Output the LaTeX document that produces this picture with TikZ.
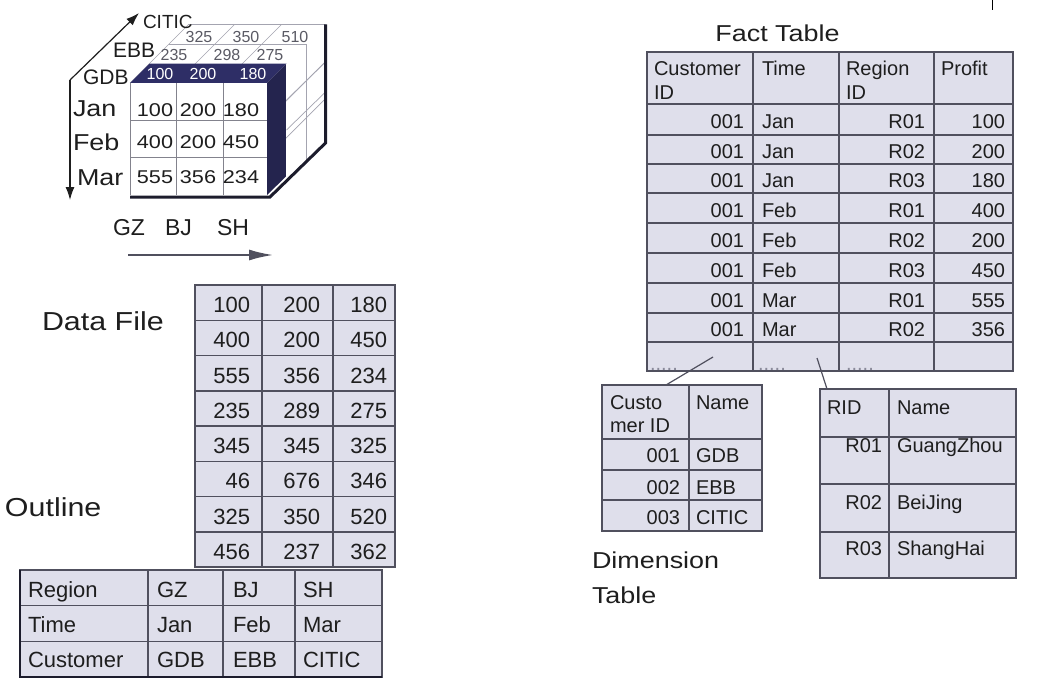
\documentclass[tikz,border=0pt]{standalone}
\usepackage{fontspec}
\setmainfont{Liberation Sans}
\newfontfamily\widefont{Liberation Sans}[FakeStretch=1.17]
\usetikzlibrary{arrows.meta}
\newcommand{\pxfont}[1]{\fontsize{#1}{#1}\selectfont}
\newcommand{\pxwfont}[1]{\widefont\fontsize{#1}{#1}\selectfont}
\definecolor{cellfill}{HTML}{DFDFEB}
\definecolor{gridc}{HTML}{50505E}
\definecolor{txt}{HTML}{1E1E1E}
\definecolor{navy}{HTML}{2E2E66}
\definecolor{navyl}{HTML}{7070AE}
\definecolor{navyd}{HTML}{24244E}
\definecolor{hatch}{HTML}{A4A4B0}
\definecolor{numgrey}{HTML}{5A5A64}
\definecolor{edgec}{HTML}{1C1C2C}
\definecolor{dotc}{HTML}{8A8A9A}
\tikzset{
  fsz/.code={\pgfmathsetmacro\mytxh{0.716*#1}\edef\mytmp{\noexpand\tikzset{font=\noexpand\pxfont{#1},text height=\mytxh pt,text depth=0pt}}\mytmp},
  wfsz/.code={\pgfmathsetmacro\mytxh{0.716*#1}\edef\mytmp{\noexpand\tikzset{font=\noexpand\pxwfont{#1},text height=\mytxh pt,text depth=0pt}}\mytmp},
  tbl/.style={draw=gridc, fill=cellfill, line width=1.5pt, anchor=north west},
  gline/.style={draw=gridc, line width=1.5pt},
  hline/.style={draw=hatch, line width=0.7pt},
  fline/.style={draw=hatch!80!black, line width=0.8pt},
  axisarrow/.style={draw=txt, line width=1.2pt, -{Latex[length=13pt,width=9pt]}},
  link/.style={draw=gridc, line width=1.2pt},
}
\begin{document}
\begin{tikzpicture}[x=1pt,y=-1pt, every node/.style={inner sep=0pt, outer sep=0pt, text=txt}]
\useasboundingbox (0,0) rectangle (1043,693);

% ---------------- cube ----------------
\fill[white] (267,83) -- (325.5,24.5) -- (325.5,142) -- (267,195) -- cycle;
\fill[white] (130,83) -- (188.5,24.5) -- (325.5,24.5) -- (267,83) -- cycle;
\draw[hline] (130,83) -- (188.5,24.5) -- (325.5,24.5);
\draw[hline] (169,44) -- (306,44) -- (306,159.7);
\draw[hline] (176,83) -- (234.5,24.5);
\draw[hline] (223,83) -- (281.5,24.5);
\draw[hline] (267,120) -- (325.5,61.5);
\draw[hline] (267,157) -- (325.5,98.5);
\draw[hline] (286.5,130) -- (325.5,92);
\draw[hline] (286.5,100) -- (325.5,62);

\node[fsz=16, text=numgrey] (b3a) at (199,37) {325};
\node[fsz=16, text=numgrey] (b3b) at (246,37) {350};
\node[fsz=16, text=numgrey] (b3c) at (295,37) {510};
\node[fsz=16, text=numgrey] (b2a) at (174,55) {235};
\node[fsz=16, text=numgrey] (b2b) at (227,55) {298};
\node[fsz=16, text=numgrey] (b2c) at (270,55) {275};

\fill[navy] (130,83) -- (149.5,63.5) -- (286.5,63.5) -- (267,83) -- cycle;
\shade[left color=navyd, middle color=navyl, right color=navyd] (267,83) -- (286.5,63.5) -- (286.5,176) -- (267,195) -- cycle;
\node[fsz=16, text=white] (f1a) at (160,74) {100};
\node[fsz=16, text=white] (f1b) at (203,74) {200};
\node[fsz=16, text=white] (f1c) at (253,74) {180};

\fill[white] (130,83) rectangle (267,195);
\draw[fline] (130,83) -- (130,195);
\draw[fline] (176,83) -- (176,195);
\draw[fline] (223,83) -- (223,195);
\draw[fline] (130,120) -- (267,120);
\draw[fline] (130,157) -- (267,157);

\foreach \y/\a/\b/\c [count=\i] in {110/100/200/180, 142/400/200/450, 177/555/356/234}{
  \node[wfsz=18.5] (cv-\i-a) at (155,\y) {\a};
  \node[wfsz=18.5] (cv-\i-b) at (198,\y) {\b};
  \node[wfsz=18.5] (cv-\i-c) at (241,\y) {\c};
}
\draw[line width=3pt, draw=edgec] (130,197) -- (270,197) -- (325.5,143) -- (325.5,24.5);

\coordinate (cax) at (70,80);
\coordinate (caxup) at (139,13);
\coordinate (caxdown) at (70,200);
\draw[axisarrow] (cax) -- (caxup);
\draw[axisarrow] (cax) -- (caxdown);

\node[wfsz=23, anchor=west] (jan) at (73,108) {Jan};
\node[wfsz=23, anchor=west] (feb) at (73,142) {Feb};
\node[wfsz=23, anchor=west] (mar) at (77,177) {Mar};
\node[fsz=21, anchor=west] (gdb) at (83,77) {GDB};
\node[fsz=21, anchor=west] (ebb) at (113,50) {EBB};
\node[fsz=19, anchor=west] (citic) at (143,22) {CITIC};
\node[fsz=23, anchor=west] (gz) at (113,227) {GZ};
\node[fsz=23, anchor=west] (bj) at (165,227) {BJ};
\node[fsz=23, anchor=west] (sh) at (217,227) {SH};
\coordinate (rax1) at (128,255);
\coordinate (rax2) at (273,255);
\draw[draw=gridc, line width=1.8pt, -{Latex[length=24pt,width=11pt]}] (rax1) -- (rax2);

% ---------------- titles ----------------
\node[wfsz=26, anchor=west] (dftitle) at (42,321) {Data File};
\node[wfsz=26, anchor=west] (oltitle) at (5,507) {Outline};
\node[wfsz=23] (fttitle) at (777.5,33) {Fact Table};
\node[wfsz=23, anchor=west] (dttitle1) at (592,560) {Dimension};
\node[wfsz=23, anchor=west] (dttitle2) at (592,595) {Table};

% ---------------- data file table ----------------
\node[tbl, minimum width=200pt, minimum height=282pt] (datafile) at (195,285) {};
\foreach \x in {262,333} \draw[gline] (\x,285) -- (\x,567);
\foreach \y in {320.25,355.5,390.75,426,461.25,496.5,531.75} \draw[gline] (195,\y) -- (395,\y);
\foreach \y/\a/\b/\c [count=\i] in {305/100/200/180, 340/400/200/450, 375.5/555/356/234, 410.5/235/289/275, 446/345/345/325, 481/46/676/346, 516.5/325/350/520, 551.5/456/237/362}{
  \node[fsz=22, anchor=east] (df-\i-a) at (250,\y) {\a};
  \node[fsz=22, anchor=east] (df-\i-b) at (320,\y) {\b};
  \node[fsz=22, anchor=east] (df-\i-c) at (387,\y) {\c};
}

% ---------------- outline table ----------------
\node[tbl, minimum width=362pt, minimum height=107pt] (outline) at (20,570) {};
\foreach \x in {148,223,295} \draw[gline] (\x,570) -- (\x,677);
\foreach \y in {605.7,641.3} \draw[gline] (20,\y) -- (382,\y);
\draw[draw=edgec, line width=2.2pt] (20,570) -- (20,677) -- (382,677);
\foreach \y/\a/\b/\c/\d [count=\i] in {590/Region/GZ/BJ/SH, 625/Time/Jan/Feb/Mar, 660/Customer/GDB/EBB/CITIC}{
  \node[fsz=22, anchor=west] (ol-\i-a) at (28,\y) {\a};
  \node[fsz=22, anchor=west] (ol-\i-b) at (157,\y) {\b};
  \node[fsz=22, anchor=west] (ol-\i-c) at (233,\y) {\c};
  \node[fsz=22, anchor=west] (ol-\i-d) at (303,\y) {\d};
}

% ---------------- fact table ----------------
\node[tbl, minimum width=366pt, minimum height=319pt] (fact) at (647,52) {};
\foreach \x in {753,839,934} \draw[gline] (\x,52) -- (\x,371);
\foreach \y in {104,135,164,193,223,253,283,313,342} \draw[gline] (647,\y) -- (1013,\y);
\node[fsz=20, anchor=west] (fh1a) at (654,68) {Customer};
\node[fsz=20, anchor=west] (fh1b) at (654,92) {ID};
\node[fsz=20, anchor=west] (fh2) at (762,68) {Time};
\node[fsz=20, anchor=west] (fh3a) at (846,68) {Region};
\node[fsz=20, anchor=west] (fh3b) at (846,92) {ID};
\node[fsz=20, anchor=west] (fh4) at (941,68) {Profit};
\foreach \y/\a/\b/\c/\d [count=\i] in {121.5/001/Jan/R01/100, 151.5/001/Jan/R02/200, 180.5/001/Jan/R03/180, 210/001/Feb/R01/400, 240/001/Feb/R02/200, 270/001/Feb/R03/450, 300/001/Mar/R01/555, 329.5/001/Mar/R02/356}{
  \node[fsz=20, anchor=east] (ft-\i-a) at (744,\y) {\a};
  \node[fsz=20, anchor=west] (ft-\i-b) at (762,\y) {\b};
  \node[fsz=20, anchor=east] (ft-\i-c) at (925,\y) {\c};
  \node[fsz=20, anchor=east] (ft-\i-d) at (1005,\y) {\d};
}
\node[fsz=20, anchor=west, text=dotc] (fdots1) at (650,363) {.....};
\node[fsz=20, anchor=west, text=dotc] (fdots2) at (758,363) {.....};
\node[fsz=20, anchor=west, text=dotc] (fdots3) at (846,363) {.....};

% ---------------- customer dimension ----------------
\node[tbl, minimum width=160pt, minimum height=146pt] (custdim) at (602,385) {};
\draw[gline] (689,385) -- (689,531);
\foreach \y in {439,470,500} \draw[gline] (602,\y) -- (762,\y);
\node[fsz=20, anchor=west] (ch1a) at (610,402) {Custo};
\node[fsz=20, anchor=west] (ch1b) at (610,425) {mer ID};
\node[fsz=20, anchor=west] (ch2) at (696,402) {Name};
\foreach \y/\a/\b [count=\i] in {455/001/GDB, 487/002/EBB, 517/003/CITIC}{
  \node[fsz=20, anchor=east] (cd-\i-a) at (680,\y) {\a};
  \node[fsz=20, anchor=west] (cd-\i-b) at (696,\y) {\b};
}

% ---------------- region dimension ----------------
\node[tbl, minimum width=196pt, minimum height=189pt] (regdim) at (820,389) {};
\draw[gline] (889,389) -- (889,578);
\foreach \y in {437,484,532} \draw[gline] (820,\y) -- (1016,\y);
\node[fsz=20, anchor=west] (rh1) at (827,407) {RID};
\node[fsz=20, anchor=west] (rh2) at (897,407) {Name};
\foreach \y/\a/\b [count=\i] in {445/R01/GuangZhou, 502/R02/BeiJing, 548/R03/ShangHai}{
  \node[fsz=20, anchor=east] (rd-\i-a) at (882,\y) {\a};
  \node[fsz=20, anchor=west] (rd-\i-b) at (897,\y) {\b};
}

% ---------------- links ----------------
\coordinate (l1a) at (713,357);
\coordinate (l1b) at (666,385);
\coordinate (l2a) at (817,358);
\coordinate (l2b) at (827,389);
\draw[link] (l1a) -- (l1b);
\draw[link] (l2a) -- (l2b);

\coordinate (tk1) at (992,0);
\coordinate (tk2) at (992,10);
\draw[line width=1pt, draw=black] (tk1) -- (tk2);
\end{tikzpicture}
\end{document}
